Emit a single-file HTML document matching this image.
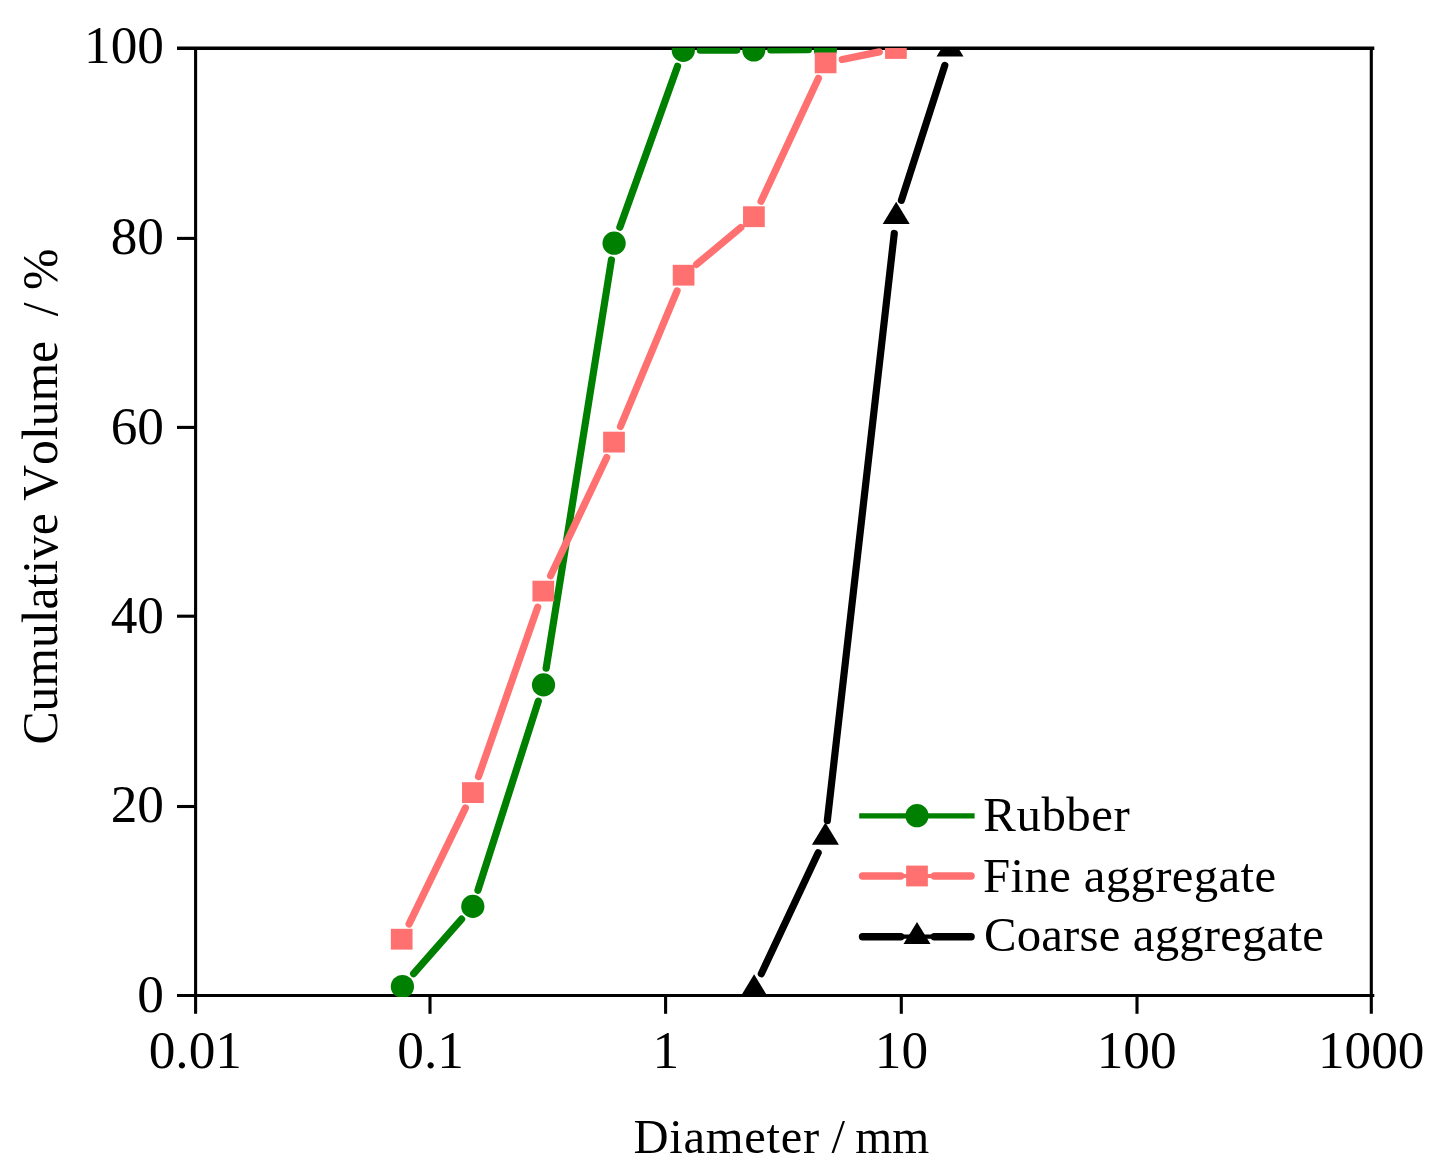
<!DOCTYPE html><html><head><meta charset="utf-8"><title>Particle size distribution</title>
<style>html,body{margin:0;padding:0;background:#fff}body{width:1441px;height:1174px;overflow:hidden}svg{display:block}text{font-kerning:none;font-family:"Liberation Serif","Times New Roman",serif;fill:#000}.t{font-size:53.3px}.l{font-size:49.6px}</style></head><body>
<svg width="1441" height="1174" viewBox="0 0 1441 1174">
<rect width="1441" height="1174" fill="#fff"/>
<defs><clipPath id="c"><rect x="190" y="48" width="1190" height="948.9"/></clipPath></defs>
<g stroke="#000" stroke-width="3.1" fill="none"><line x1="177" y1="48.2" x2="1374.3" y2="48.2" stroke-width="3.4"/><line x1="177" y1="995.5" x2="1374.3" y2="995.5" stroke-width="3.0"/><line x1="195.6" y1="48.2" x2="195.6" y2="1013.8"/><line x1="1371.3" y1="48.2" x2="1371.3" y2="1013.8"/><line x1="177" y1="806.5" x2="195.6" y2="806.5"/><line x1="177" y1="616.2" x2="195.6" y2="616.2"/><line x1="177" y1="427.4" x2="195.6" y2="427.4"/><line x1="177" y1="238.4" x2="195.6" y2="238.4"/><line x1="430" y1="995.5" x2="430" y2="1013.8"/><line x1="665.6" y1="995.5" x2="665.6" y2="1013.8"/><line x1="901.3" y1="995.5" x2="901.3" y2="1013.8"/><line x1="1137" y1="995.5" x2="1137" y2="1013.8"/></g>
<text class="t" x="164" y="1011.8" text-anchor="end">0</text><text class="t" x="164" y="822.4" text-anchor="end">20</text><text class="t" x="164" y="632.6" text-anchor="end">40</text><text class="t" x="164" y="443.5" text-anchor="end">60</text><text class="t" x="164" y="254.2" text-anchor="end">80</text><text class="t" x="164" y="63.2" text-anchor="end">100</text>
<text class="t" x="195.3" y="1067.6" text-anchor="middle">0.01</text><text class="t" x="430.6" y="1067.6" text-anchor="middle">0.1</text><text class="t" x="665.9" y="1067.6" text-anchor="middle">1</text><text class="t" x="901.4" y="1067.6" text-anchor="middle">10</text><text class="t" x="1136.7" y="1067.6" text-anchor="middle">100</text><text class="t" x="1371.2" y="1067.6" text-anchor="middle">1000</text>
<text y="1152.8" font-size="48.6"><tspan x="633.4" textLength="185.9">Diameter</tspan> <tspan x="831.5">/</tspan> <tspan x="855.3" textLength="73.9" lengthAdjust="spacingAndGlyphs">mm</tspan></text>
<text transform="translate(57.1,744.6) rotate(-90)" font-size="49.7" textLength="496" xml:space="preserve">Cumulative Volume  / %</text>
<g clip-path="url(#c)">
<g stroke="#008000" stroke-width="7.2" stroke-linecap="round" fill="none"><line x1="413.62" y1="973.73" x2="461.58" y2="919.17"/><line x1="477.97" y1="890.2" x2="538.33" y2="701.1"/><line x1="546.18" y1="668.11" x2="611.42" y2="259.99"/><line x1="619.84" y1="227.2" x2="677.56" y2="66.3"/><line x1="700.3" y1="50.23" x2="736.8" y2="50.07"/><line x1="770.8" y1="49.88" x2="808.4" y2="49.62"/></g>
<g fill="#008000"><circle cx="402.4" cy="986.5" r="11.6"/><circle cx="472.8" cy="906.4" r="11.6"/><circle cx="543.5" cy="684.9" r="11.6"/><circle cx="614.1" cy="243.2" r="11.6"/><circle cx="683.3" cy="50.3" r="11.6"/><circle cx="753.8" cy="50" r="11.6"/><circle cx="825.4" cy="49.5" r="11.6"/></g>
<g stroke="#FF7070" stroke-width="7.2" stroke-linecap="round" fill="none"><line x1="409.13" y1="923.91" x2="465.47" y2="807.89"/><line x1="478.51" y1="776.55" x2="537.69" y2="607.15"/><line x1="550.59" y1="575.74" x2="606.71" y2="457.46"/><line x1="620.54" y1="426.41" x2="677.06" y2="290.89"/><line x1="696.67" y1="264.33" x2="740.83" y2="227.57"/><line x1="761.08" y1="201.29" x2="818.42" y2="78.26"/><line x1="842.26" y1="59.45" x2="879.24" y2="51.9"/></g>
<g fill="#FF7070"><rect x="390.85" y="928.8" width="21.7" height="20.8"/><rect x="462.05" y="782.2" width="21.7" height="20.8"/><rect x="532.45" y="580.7" width="21.7" height="20.8"/><rect x="603.15" y="431.7" width="21.7" height="20.8"/><rect x="672.75" y="264.8" width="21.7" height="20.8"/><rect x="743.05" y="206.3" width="21.7" height="20.8"/><rect x="814.75" y="52.45" width="21.7" height="20.8"/><rect x="885.05" y="38.1" width="21.7" height="20.8"/></g>
<g stroke="#000000" stroke-width="7.2" stroke-linecap="round" fill="none"><line x1="761.33" y1="973.71" x2="818.17" y2="852.79"/><line x1="827.33" y1="820.51" x2="894.27" y2="233.49"/><line x1="901.4" y1="200.42" x2="944.8" y2="65.38"/></g>
<g fill="#000000"><polygon points="754.1,974.3 740.6,996.5 767.6,996.5"/><polygon points="825.4,822.6 811.9,844.8 838.9,844.8"/><polygon points="896.2,201.8 882.7,224 909.7,224"/><polygon points="950,34.4 936.5,56.6 963.5,56.6"/></g>
</g>
<line x1="859.2" y1="815.9" x2="974.6" y2="815.9" stroke="#008000" stroke-width="5.4"/>
<g fill="#008000"><circle cx="917" cy="815.7" r="11.6"/></g>
<g stroke="#FF7070" fill="none"><line x1="861.8" y1="876" x2="971.8" y2="876" stroke-width="4.2"/>
<g stroke-width="7.4" stroke-linecap="round"><line x1="862.5" y1="876" x2="900.7" y2="876"/><line x1="934.3" y1="876" x2="971.1" y2="876"/></g></g>
<g stroke="#000000" fill="none"><line x1="861.8" y1="936.7" x2="971.8" y2="936.7" stroke-width="4.2"/>
<g stroke-width="7.4" stroke-linecap="round"><line x1="862.5" y1="936.7" x2="900.7" y2="936.7"/><line x1="934.3" y1="936.7" x2="971.1" y2="936.7"/></g></g>
<g fill="#FF7070"><rect x="906.15" y="865.6" width="21.7" height="20.8"/></g>
<g fill="#000000"><polygon points="917,921.9 903.5,944.1 930.5,944.1"/></g>
<text x="983.3" y="831.1" font-size="48.8" textLength="146.5">Rubber</text>
<text x="983" y="891.6" font-size="48.8" textLength="293.2">Fine aggregate</text>
<text x="984" y="950.8" font-size="48.8" textLength="339.8">Coarse aggregate</text>
</svg></body></html>
